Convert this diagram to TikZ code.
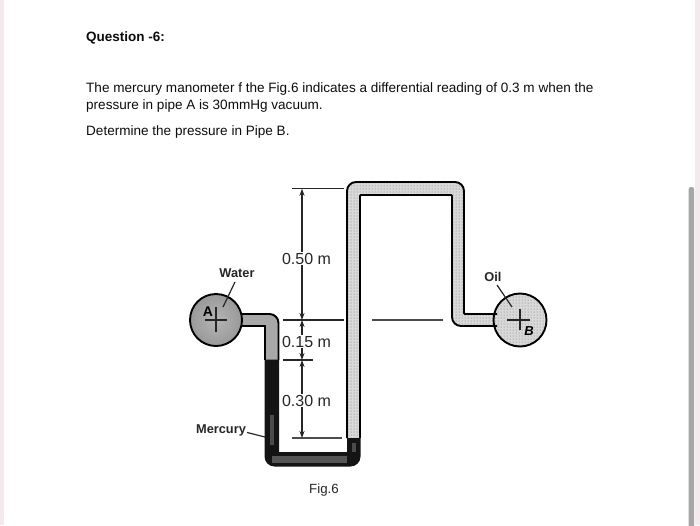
\documentclass[tikz,border=0pt]{standalone}
\usepackage{fontspec}
\setmainfont{Liberation Sans}
\usetikzlibrary{patterns,arrows.meta}
\definecolor{edgetint}{RGB}{244,234,238}
\tikzset{
  pipeline/.style={black,line width=1.9pt},
  dimline/.style={black!85,line width=1.1pt},
  dimarrow/.style={black!85,line width=1.1pt,{Stealth[length=7pt,width=5pt]}-{Stealth[length=7pt,width=5pt]}},
  leader/.style={black!85,line width=1.2pt},
  body/.style={anchor=west,inner sep=0pt,font=\fontsize{13.55}{16}\selectfont,text=black!95},
  figlabel/.style={inner sep=0pt,font=\fontsize{12.8}{14}\selectfont\bfseries,text=black!85},
  dimlabel/.style={fill=white,inner sep=0.5pt,font=\fontsize{16}{18}\selectfont,text=black!85},
  crossline/.style={black!85,line width=1.1pt}
}
\begin{document}
\begin{tikzpicture}[x=1pt,y=-1pt]
\useasboundingbox (0,0) rectangle (700,525);
\fill[white] (0,0) rectangle (700,525);
\fill[edgetint] (0,0) rectangle (3.5,525);
\fill[edgetint] (695,0) rectangle (700,525);
\fill[gray!70,rounded corners=2pt] (688.7,187) rectangle (694,530);
% Oil
\def\oilpath{(347,438) -- (347,190) [rounded corners=9pt] -- (347,182) -- (464,182) [rounded corners=1pt] -- (464,314) -- (500,314) -- (500,326) [rounded corners=9pt] -- (452,326) [rounded corners=1pt] -- (452,195) -- (360,195) -- (360,438) -- cycle}
\fill[gray!30] \oilpath;
\fill[pattern=dots,pattern color=black!55] \oilpath;
\fill[gray!30] (520,320) circle (26.5pt);
\fill[pattern=dots,pattern color=black!55] (520,320) circle (26.5pt);
\draw[pipeline] (347,438) [rounded corners=9pt] -- (347,182) -- (464,182) [rounded corners=1pt] -- (464,314) -- (497,314);
\draw[pipeline] (497,326) [rounded corners=9pt] -- (452,326) [rounded corners=1pt] -- (452,195) -- (360,195) -- (360,438);
\node[circle,minimum size=53pt,inner sep=0pt,draw=black,line width=1.9pt,fill=none] (pipeB) at (520,320) {};
% Mercury
\fill[black!92] (264.5,359) [rounded corners=10pt] -- (264.5,466.5) -- (360.5,466.5) [sharp corners] -- (360.5,438) -- (347,438) -- (347,452) -- (279,452) -- (279,359) -- cycle;
\draw[black!62,line width=7pt,opacity=.85] (272,459) -- (347,459);
\draw[black!65,line width=4pt,opacity=.8] (272,415) -- (272,445);
\draw[black!65,line width=4pt,opacity=.8] (353.5,443) -- (353.5,452);
% Water
\fill[gray!68] (240,314) [rounded corners=9pt] -- (278,314) [sharp corners] -- (278,359.5) -- (265,359.5) -- (265,326) -- (240,326) -- cycle;
\draw[pipeline] (238,314) [rounded corners=9pt] -- (278.5,314) [sharp corners] -- (278.5,360);
\draw[pipeline] (238,326) -- (265,326) -- (265,360);
\node[circle,minimum size=52pt,inner sep=0pt,draw=black,line width=1.9pt,inner color=gray!58,outer color=gray!80] (pipeA) at (216,320) {};
% Crosses
\coordinate (aw) at (205,320); \coordinate (ae) at (227,320);
\coordinate (an) at (216,307); \coordinate (as) at (216,332);
\draw[crossline] (aw) -- (ae);
\draw[crossline] (an) -- (as);
\coordinate (bw) at (507,320); \coordinate (be) at (530,320);
\coordinate (bn) at (520,309); \coordinate (bs) at (520,330);
\draw[crossline] (bw) -- (be);
\draw[crossline,line width=1.4pt] (bn) -- (bs);
\node[figlabel,text=black,font=\fontsize{14}{14}\selectfont\bfseries] (labA) at (208,312) {A};
\node[figlabel,text=black,font=\fontsize{13}{14}\selectfont\bfseries\itshape] (labB) at (529,331) {B};
% Dimension lines
\coordinate (t1) at (292,188.7); \coordinate (t2) at (344,188.7);
\coordinate (m1) at (283,320); \coordinate (m2) at (344,320);
\coordinate (m3) at (372,320); \coordinate (m4) at (443,320);
\coordinate (l1) at (283,360); \coordinate (l2) at (313,360);
\coordinate (b1) at (292,438); \coordinate (b2) at (342,438);
\coordinate (d1) at (302,188.7); \coordinate (d2) at (302,320);
\coordinate (d3) at (302,360); \coordinate (d4) at (302,438);
\draw[dimline] (t1) -- (t2);
\draw[dimline] (m1) -- (m2);
\draw[dimline,black!70] (m3) -- (m4);
\draw[dimline] (l1) -- (l2);
\draw[dimline,black!70] (b1) -- (b2);
\draw[dimarrow] (d1) -- (d2);
\draw[dimarrow] (d2) -- (d3);
\draw[dimarrow] (d3) -- (d4);
\node[dimlabel] (h1) at (306.5,258.5) {0.50 m};
\node[dimlabel] (h2) at (306.5,341.5) {0.15 m};
\node[dimlabel] (h3) at (306.5,400.5) {0.30 m};
% Labels and leaders
\node[figlabel] (water) at (237,273.5) {Water};
\node[figlabel] (oil) at (493,276.5) {Oil};
\node[figlabel] (mercury) at (221,430.5) {Mercury};
\coordinate (wend) at (223,307);
\coordinate (oend) at (512,307);
\coordinate (mend) at (265,437);
\draw[leader] (water) ++(-2,8.5) -- (wend);
\draw[leader] (oil) ++(4,8.5) -- (oend);
\draw[leader] (mercury.east) ++(1,2) -- (mend);
% Text
\node[body,font=\fontsize{13.5}{16}\selectfont\bfseries] (title) at (86,38) {Question -6:};
\node[body] (line1) at (86,89) {The mercury manometer f the Fig.6 indicates a differential reading of 0.3 m when the};
\node[body] (line2) at (86,106) {pressure in pipe A is 30mmHg vacuum.};
\node[body] (line3) at (86,132) {Determine the pressure in Pipe B.};
\node[inner sep=0pt,font=\fontsize{13.3}{16}\selectfont,text=black!85] (fig) at (324,490) {Fig.6};
\end{tikzpicture}
\end{document}
